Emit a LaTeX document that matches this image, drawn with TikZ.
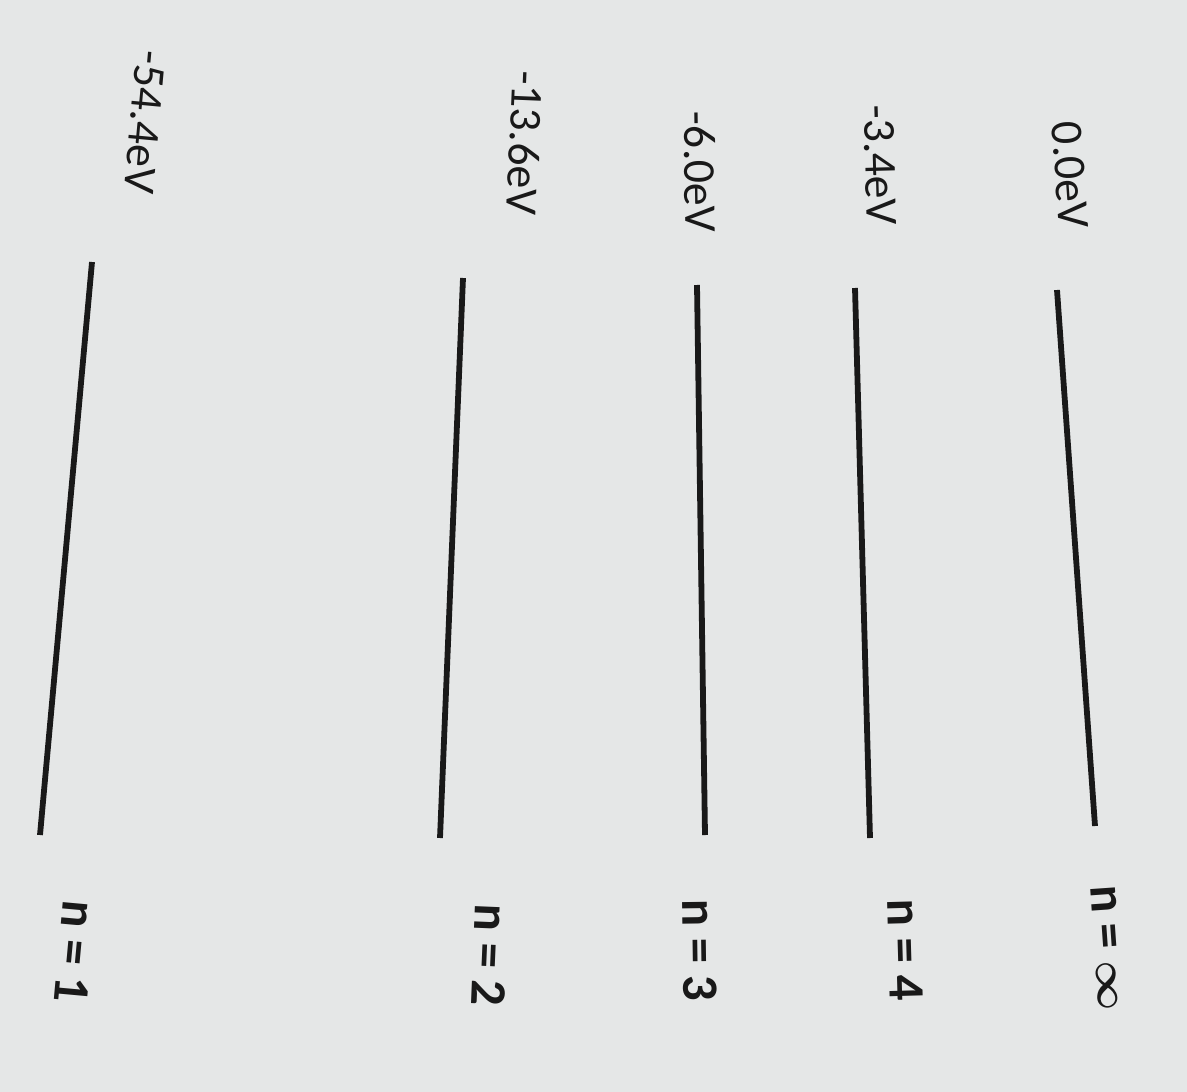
\documentclass[tikz,border=0pt]{standalone}
\usepackage{fontspec}
\setmainfont{Carlito}
\usepackage{tikz}
\usetikzlibrary{positioning}
\definecolor{paper}{RGB}{229,231,231}
\definecolor{ink}{RGB}{25,25,25}
\tikzset{
  level/.style={draw=ink, line width=3.3pt},
  elabel/.style={text=ink, font=\fontsize{26}{30}\selectfont, inner sep=0pt},
  nlabel/.style={text=ink, font=\fontsize{29}{33}\selectfont\bfseries\boldmath, inner sep=0pt}
}

\begin{document}
\begin{tikzpicture}[x=0.02cm, y=-0.02cm]
            % paper
            \fill[paper] (0,0) rectangle (1187,1092);
            \useasboundingbox (0,0) rectangle (1187,1092);
            % level end points
            \coordinate (inftop) at (1057,290);
            \coordinate (infbot) at (1095,826);
            \coordinate (fourtop) at (855,288);
            \coordinate (fourbot) at (870,838);
            \coordinate (threetop) at (697,285);
            \coordinate (threebot) at (705,835);
            \coordinate (twotop) at (463,278);
            \coordinate (twobot) at (440,838);
            \coordinate (onetop) at (92,262);
            \coordinate (onebot) at (40,835);
            
            % energy levels
            \draw[level] (inftop) -- (infbot);
            \draw[level] (fourtop) -- (fourbot);
            \draw[level] (threetop) -- (threebot);
            \draw[level] (twotop) -- (twobot);
            \draw[level] (onetop) -- (onebot);
            
            % energies
            \node[elabel, rotate=-86] (einf) at (1070,175) {0.0eV};
            \node[elabel, rotate=-88.4] (efour) at (880,165) {-3.4eV};
            \node[elabel, rotate=-89.2] (ethree) at (700,172) {-6.0eV};
            \node[elabel, rotate=-92.4] (etwo) at (525,143) {-13.6eV};
            \node[elabel, rotate=-95.2] (eone) at (145,122) {-54.4eV};
            
            % quantum numbers
            \node[nlabel, rotate=-86] (ninf) at (1107,948) {n = $\infty$};
            \node[nlabel, rotate=-88.4] (nfour) at (905,950) {n = 4};
            \node[nlabel, rotate=-89.2] (nthree) at (700,950) {n = 3};
            \node[nlabel, rotate=-92.4] (ntwo) at (490,955) {n = 2};
            \node[nlabel, rotate=-95.2] (none) at (75,952) {n = 1};
        \end{tikzpicture}
\end{document}
